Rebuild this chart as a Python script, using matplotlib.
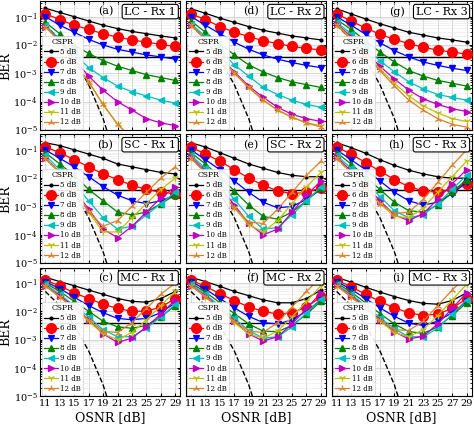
import numpy as np
import matplotlib
matplotlib.use("Agg")
import matplotlib.pyplot as plt

plt.rcParams['font.family'] = 'DejaVu Serif'
plt.rcParams['mathtext.fontset'] = 'cm'

osnr = [11, 13, 15, 17, 19, 21, 23, 25, 27, 29]
cspr_labels = ['5 dB', '6 dB', '7 dB', '8 dB', '9 dB', '10 dB', '11 dB', '12 dB']
theory = [-1.3, -1.8, -2.5, -3.4, -4.6, -6.2, -8.0, -10, -12, -14]
hd_fec = 3.8e-3

# log10(BER) per CSPR (rows) vs OSNR (cols)
lc_rx1 = [[-0.70, -0.85, -1.00, -1.15, -1.30, -1.42, -1.52, -1.60, -1.68, -1.75],
          [-0.90, -1.10, -1.30, -1.45, -1.60, -1.72, -1.82, -1.90, -1.98, -2.05],
          [-1.00, -1.30, -1.55, -1.80, -2.00, -2.15, -2.25, -2.35, -2.42, -2.50],
          [-1.20, -1.60, -2.00, -2.30, -2.55, -2.75, -2.90, -3.05, -3.15, -3.25],
          [-1.30, -1.80, -2.30, -2.80, -3.15, -3.45, -3.65, -3.80, -3.95, -4.05],
          [-1.35, -1.85, -2.50, -3.10, -3.60, -4.00, -4.30, -4.60, -4.75, -4.85],
          [-1.35, -1.90, -2.60, -3.30, -4.10, -4.80, -5.30, -5.80, -6.20, -6.50],
          [-1.35, -1.90, -2.60, -3.30, -4.10, -4.80, -5.30, -5.80, -6.20, -6.50]]
lc_rx2 = [[-0.72, -0.88, -1.05, -1.20, -1.35, -1.48, -1.58, -1.68, -1.75, -1.82],
          [-0.90, -1.10, -1.35, -1.55, -1.70, -1.85, -1.95, -2.05, -2.12, -2.18],
          [-1.00, -1.30, -1.60, -1.90, -2.15, -2.35, -2.50, -2.62, -2.72, -2.80],
          [-1.15, -1.55, -1.95, -2.35, -2.70, -2.95, -3.15, -3.30, -3.40, -3.50],
          [-1.25, -1.70, -2.20, -2.70, -3.10, -3.50, -3.75, -3.95, -4.10, -4.20],
          [-1.30, -1.80, -2.40, -2.95, -3.45, -3.85, -4.20, -4.45, -4.60, -4.70],
          [-1.30, -1.80, -2.40, -3.00, -3.50, -3.95, -4.30, -4.55, -4.75, -4.85],
          [-1.30, -1.80, -2.40, -3.00, -3.50, -3.95, -4.30, -4.55, -4.75, -4.90]]
lc_rx3 = [[-0.72, -0.90, -1.08, -1.25, -1.40, -1.55, -1.65, -1.75, -1.82, -1.90],
          [-0.90, -1.15, -1.40, -1.62, -1.80, -1.95, -2.08, -2.18, -2.25, -2.32],
          [-1.00, -1.30, -1.62, -1.92, -2.20, -2.42, -2.60, -2.72, -2.82, -2.90],
          [-1.10, -1.45, -1.85, -2.25, -2.60, -2.90, -3.10, -3.25, -3.35, -3.45],
          [-1.20, -1.60, -2.10, -2.55, -2.95, -3.30, -3.55, -3.75, -3.85, -3.95],
          [-1.25, -1.70, -2.25, -2.75, -3.20, -3.60, -3.90, -4.10, -4.25, -4.35],
          [-1.28, -1.75, -2.30, -2.85, -3.35, -3.80, -4.15, -4.40, -4.60, -4.70],
          [-1.30, -1.80, -2.35, -2.90, -3.45, -3.95, -4.30, -4.60, -4.80, -4.90]]
sc_rx1 = [[-0.75, -0.85, -1.00, -1.15, -1.30, -1.50, -1.60, -1.70, -1.80, -1.85],
          [-0.90, -1.10, -1.35, -1.60, -1.85, -2.05, -2.25, -2.40, -2.50, -2.55],
          [-1.00, -1.30, -1.60, -1.95, -2.30, -2.60, -2.80, -2.90, -2.80, -2.60],
          [-1.10, -1.50, -1.90, -2.40, -2.80, -3.20, -3.30, -3.20, -2.90, -2.60],
          [-1.20, -1.70, -2.20, -2.80, -3.40, -3.80, -3.70, -3.30, -2.90, -2.50],
          [-1.30, -1.80, -2.40, -3.10, -3.80, -4.10, -3.70, -3.20, -2.70, -2.30],
          [-1.30, -1.80, -2.40, -3.20, -3.90, -3.90, -3.40, -2.90, -2.40, -2.00],
          [-1.30, -1.80, -2.40, -3.20, -3.70, -3.50, -3.00, -2.50, -2.00, -1.60]]
sc_rx2 = [[-0.75, -0.90, -1.10, -1.30, -1.50, -1.65, -1.80, -1.90, -1.95, -1.95],
          [-0.90, -1.15, -1.40, -1.70, -2.00, -2.25, -2.45, -2.55, -2.50, -2.35],
          [-1.00, -1.35, -1.70, -2.10, -2.50, -2.85, -3.05, -3.00, -2.75, -2.40],
          [-1.10, -1.50, -1.95, -2.45, -2.95, -3.35, -3.45, -3.20, -2.80, -2.35],
          [-1.20, -1.65, -2.15, -2.75, -3.35, -3.80, -3.75, -3.30, -2.80, -2.30],
          [-1.25, -1.75, -2.30, -2.95, -3.60, -4.00, -3.80, -3.20, -2.60, -2.10],
          [-1.30, -1.80, -2.40, -3.05, -3.65, -3.90, -3.50, -2.90, -2.30, -1.80],
          [-1.30, -1.80, -2.40, -3.05, -3.55, -3.60, -3.10, -2.50, -1.90, -1.40]]
sc_rx3 = [[-0.75, -0.92, -1.12, -1.35, -1.55, -1.72, -1.85, -1.95, -2.00, -2.00],
          [-0.90, -1.15, -1.45, -1.75, -2.05, -2.30, -2.45, -2.50, -2.40, -2.20],
          [-1.00, -1.35, -1.70, -2.10, -2.50, -2.80, -2.95, -2.85, -2.55, -2.15],
          [-1.10, -1.50, -1.95, -2.40, -2.85, -3.15, -3.20, -2.95, -2.50, -2.05],
          [-1.20, -1.65, -2.15, -2.65, -3.15, -3.40, -3.30, -2.90, -2.40, -1.90],
          [-1.25, -1.75, -2.25, -2.80, -3.30, -3.50, -3.25, -2.75, -2.20, -1.70],
          [-1.30, -1.80, -2.35, -2.90, -3.35, -3.40, -3.05, -2.50, -1.95, -1.40],
          [-1.30, -1.80, -2.35, -2.90, -3.25, -3.20, -2.75, -2.15, -1.55, -1.00]]
mc_rx1 = [[-0.80, -0.95, -1.10, -1.25, -1.40, -1.55, -1.65, -1.68, -1.55, -1.30],
          [-0.90, -1.10, -1.35, -1.55, -1.75, -1.90, -2.00, -2.00, -1.85, -1.55],
          [-0.95, -1.20, -1.50, -1.80, -2.05, -2.25, -2.30, -2.25, -2.05, -1.70],
          [-1.00, -1.30, -1.65, -2.00, -2.35, -2.55, -2.60, -2.50, -2.20, -1.80],
          [-1.05, -1.40, -1.80, -2.20, -2.65, -2.90, -2.90, -2.60, -2.20, -1.75],
          [-1.10, -1.45, -1.85, -2.30, -2.80, -3.10, -2.95, -2.55, -2.10, -1.60],
          [-1.10, -1.50, -1.90, -2.35, -2.80, -3.00, -2.75, -2.30, -1.80, -1.30],
          [-1.10, -1.50, -1.90, -2.30, -2.70, -2.75, -2.40, -1.90, -1.40, -1.00]]
mc_rx2 = [[-0.80, -0.95, -1.12, -1.30, -1.45, -1.60, -1.70, -1.70, -1.55, -1.25],
          [-0.90, -1.12, -1.38, -1.62, -1.85, -2.00, -2.10, -2.05, -1.85, -1.50],
          [-0.95, -1.22, -1.55, -1.88, -2.18, -2.40, -2.45, -2.30, -2.00, -1.60],
          [-1.00, -1.32, -1.70, -2.08, -2.45, -2.70, -2.72, -2.50, -2.10, -1.65],
          [-1.05, -1.40, -1.82, -2.25, -2.68, -2.95, -2.90, -2.55, -2.05, -1.55],
          [-1.10, -1.45, -1.88, -2.35, -2.80, -3.05, -2.90, -2.45, -1.90, -1.35],
          [-1.10, -1.48, -1.92, -2.40, -2.80, -2.95, -2.70, -2.20, -1.65, -1.10],
          [-1.10, -1.50, -1.92, -2.35, -2.70, -2.75, -2.40, -1.85, -1.30, -0.80]]
mc_rx3 = [[-0.80, -0.97, -1.15, -1.32, -1.48, -1.62, -1.72, -1.75, -1.62, -1.35],
          [-0.90, -1.13, -1.40, -1.65, -1.88, -2.05, -2.15, -2.10, -1.90, -1.55],
          [-0.95, -1.22, -1.55, -1.88, -2.18, -2.42, -2.50, -2.35, -2.05, -1.65],
          [-1.00, -1.32, -1.70, -2.08, -2.45, -2.72, -2.78, -2.55, -2.15, -1.70],
          [-1.05, -1.40, -1.80, -2.22, -2.62, -2.90, -2.90, -2.60, -2.10, -1.60],
          [-1.08, -1.45, -1.85, -2.30, -2.72, -2.98, -2.88, -2.45, -1.90, -1.35],
          [-1.10, -1.48, -1.90, -2.35, -2.75, -2.90, -2.65, -2.15, -1.60, -1.05],
          [-1.10, -1.50, -1.90, -2.32, -2.65, -2.68, -2.35, -1.80, -1.25, -0.75]]

panels = [[('(a)', 'LC - Rx 1', lc_rx1), ('(d)', 'LC - Rx 2', lc_rx2), ('(g)', 'LC - Rx 3', lc_rx3)],
          [('(b)', 'SC - Rx 1', sc_rx1), ('(e)', 'SC - Rx 2', sc_rx2), ('(h)', 'SC - Rx 3', sc_rx3)],
          [('(c)', 'MC - Rx 1', mc_rx1), ('(f)', 'MC - Rx 2', mc_rx2), ('(i)', 'MC - Rx 3', mc_rx3)]]

colors = ['black', 'red', 'blue', 'green', 'c', 'm', 'y', '#d9822b']
markers = ['.', 'o', 'v', '^', '<', '>', '1', '2']
msizes = [4, 7, 5, 5, 5, 5, 5, 5]

fig, axes = plt.subplots(3, 3, figsize=(4.74, 4.33), dpi=100, sharex=True, sharey=True)
fig.subplots_adjust(left=0.085, right=0.995, top=0.997, bottom=0.085, wspace=0.04, hspace=0.035)

for r in range(3):
    for c in range(3):
        ax = axes[r][c]
        tag, name, data = panels[r][c]
        ax.grid(True, which='major', color='#c8c8c8', lw=0.5)
        ax.grid(True, which='minor', color='#e6e6e6', lw=0.4)
        for i, ser in enumerate(data):
            ax.semilogy(osnr, 10.0 ** np.array(ser), color=colors[i], marker=markers[i],
                        ms=msizes[i], lw=0.9, label=cspr_labels[i], zorder=3)
        ax.semilogy(osnr, 10.0 ** np.array(theory), 'k--', lw=1.0, zorder=2)
        ax.axhline(hd_fec, color='black', lw=1.0, zorder=2)
        ax.set_xlim(10.3, 29.7)
        ax.set_ylim(1e-5, 0.35)
        ax.set_xticks([11, 13, 15, 17, 19, 21, 23, 25, 27, 29])
        ax.set_yticks([1e-5, 1e-4, 1e-3, 1e-2, 1e-1])
        ax.tick_params(which='both', direction='in', top=True, right=True, labelsize=7, length=2.5, pad=2)
        ax.tick_params(which='minor', length=1.5)
        ax.text(0.52, 0.92, tag, transform=ax.transAxes, fontsize=8, ha='right', va='center', zorder=6)
        ax.text(0.97, 0.92, name, transform=ax.transAxes, fontsize=8, ha='right', va='center', zorder=6,
                bbox=dict(boxstyle='round,pad=0.2', fc='white', ec='black', lw=0.8))
        leg = ax.legend(title='CSPR', loc='lower left', fontsize=5, title_fontsize=5.5,
                        frameon=True, framealpha=0.9, borderpad=0.3, labelspacing=0.3,
                        handlelength=2.0, handletextpad=0.4, borderaxespad=0.2)
        leg.get_frame().set_linewidth(0.5)
        leg.set_zorder(5)
        if c == 0:
            ax.set_ylabel('BER', fontsize=9, labelpad=1)
        if r == 2:
            ax.set_xlabel('OSNR [dB]', fontsize=9, labelpad=2)

fig.savefig('out.png', dpi=100)
